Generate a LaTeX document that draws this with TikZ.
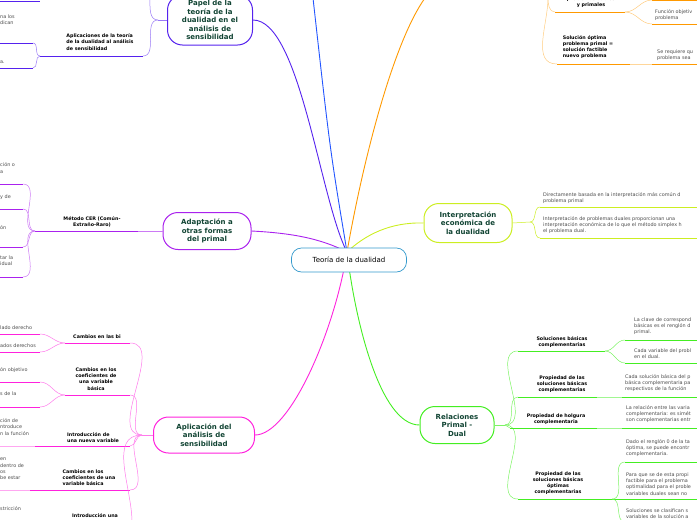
\documentclass[tikz,border=0pt]{standalone}
\usepackage{fontspec}
\setmainfont{DejaVu Sans}
\usetikzlibrary{calc}
\definecolor{titlegreen}{HTML}{114433}
\definecolor{ctrblue}{HTML}{3399CC}
\definecolor{topblue}{HTML}{2255FF}
\definecolor{papelc}{HTML}{5522EE}
\definecolor{adaptc}{HTML}{AA22EE}
\definecolor{aplicc}{HTML}{FF22DD}
\definecolor{interpc}{HTML}{CCEE22}
\definecolor{relc}{HTML}{44EE22}
\definecolor{orangec}{HTML}{FF9900}
\tikzstyle{topic}=[rectangle, rounded corners=15pt, draw, line width=1pt, align=center, fill=white, text=titlegreen, font=\fontsize{7}{8.4}\selectfont\bfseries]
\tikzstyle{sub}=[align=center, inner sep=0pt, font=\fontsize{4.8}{6.2}\selectfont\bfseries]
\tikzstyle{leaf}=[align=left, anchor=west, inner sep=0pt, text=black!70, font=\fontsize{4.9}{6.3}\selectfont]
\tikzstyle{link}=[line width=0.9pt]
\tikzstyle{thin}=[line width=0.5pt]
\begin{document}
\begin{tikzpicture}[x=1pt, y=-1pt]
	\useasboundingbox (0,0) rectangle (697,520);

	% centre
	\coordinate (hub) at (347,252);
	\coordinate (bluetop) at (313,-2);
	\coordinate (orgtop) at (425,-2);
	\draw[link, topblue] (hub) .. controls (330,150) .. (bluetop);
	\draw[link, orangec] (hub) .. controls (365,150) and (395,40) .. (orgtop);

	% main topics
	\node[topic, draw=papelc, minimum width=85pt, minimum height=50pt](papel) at (210,20){Papel de la\\teoría de la\\dualidad en el\\análisis de\\sensibilidad};
	\node[topic, draw=adaptc, minimum width=88pt, minimum height=37pt](adapt) at (207,231){Adaptación a\\otras formas\\del primal};
	\node[topic, draw=aplicc, minimum width=101pt, minimum height=36pt](aplic) at (204,435){Aplicación del\\análisis de\\sensibilidad};
	\node[topic, draw=interpc, minimum width=88pt, minimum height=39pt](interp) at (468,223){Interpretación\\económica de\\la dualidad};
	\node[topic, draw=relc, minimum width=74pt, minimum height=37pt](rel) at (457,425){Relaciones\\Primal -\\Dual};

	\draw[link, papelc] (papel.east) .. controls (300,20) and (320,200) .. (hub);
	\draw[link, adaptc] (adapt.east) .. controls (290,233) and (320,238) .. (hub);
	\draw[link, aplicc] (aplic.east) .. controls (290,435) and (335,330) .. (hub);
	\draw[link, interpc] (interp.west) .. controls (390,222) and (365,235) .. (hub);
	\draw[link, relc] (rel.west) .. controls (380,425) and (355,320) .. (hub);

	\node[rectangle, rounded corners=10pt, draw=ctrblue, fill=white, line width=0.7pt, minimum width=115pt, minimum height=24pt, font=\fontsize{7}{8}\selectfont](ctr) at (349,260){Teoría de la dualidad};

	% papel
	\node[sub, align=left](aplteo) at (100,42){Aplicaciones de la teoría\\de la dualidad al análisis\\de sensibilidad};
	\coordinate (aplteoR) at (143,56);
	\coordinate (aplteoL) at (40,56);
	\coordinate (papelUp) at (150,-2);
	\coordinate (papelJ) at (158,20);
	\draw[thin, papelc!60] (papel.west) -- (papelJ);
	\draw[thin, papelc!60] (papelJ) to[out=180,in=0] (aplteoR);
	\draw[thin, papelc!60] (papelJ) to[out=180,in=-90] (papelUp);
	\draw[link, papelc] (aplteoL) -- (aplteoR);
	\coordinate (pl0) at (0,1); \coordinate (pl0e) at (40,1);
	\coordinate (pl1) at (0,43); \coordinate (pl1e) at (33,43);
	\coordinate (pl2) at (0,68); \coordinate (pl2e) at (33,68);
	\draw[link, papelc] (pl0) -- (pl0e);
	\draw[link, papelc] (pl1) -- (pl1e);
	\draw[link, papelc] (pl2) -- (pl2e);
	\draw[thin, papelc!60] (aplteoL) to[out=180,in=0] (pl1e);
	\draw[thin, papelc!60] (aplteoL) to[out=180,in=0] (pl2e);
	\node[leaf](p1) at (0,20){na los\\dican};
	\node[leaf](p2) at (0,62){a.};

	% adaptacion
	\node[sub](cer) at (92,222){Método CER (Común-\\Extraño-Raro)};
	\coordinate (cerR) at (138,231);
	\coordinate (cerL) at (35,231);
	\draw[thin, adaptc!60] (adapt.west) -- (cerR);
	\draw[link, adaptc] (cerL) -- (cerR);
	\foreach \y/\n in {184/a1, 209/a2, 247/a3, 277/a4}{
		\coordinate (\n) at (23,\y);
		\draw[link, adaptc] (0,\y) -- (\n);
		\draw[thin, adaptc!60] (cerL) to[out=180,in=0] (\n);
	}
	\node[leaf](ad1) at (0,168){ción o\\a};
	\node[leaf](ad2) at (0,197){ y de};
	\node[leaf](ad3) at (0,228){ón};
	\node[leaf](ad4) at (0,261){tar la\\idual};

	% aplicacion
	\coordinate (apJ) at (142,435);
	\draw[thin, aplicc!60] (aplic.west) -- (apJ);
	\node[sub](bi) at (97,337){Cambios en las bi};
	\node[sub](cvb) at (96,379){Cambios en los\\coeficientes de\\una variable\\básica};
	\node[sub, align=left](nva) at (93,438){Introducción de\\una nueva variable};
	\node[sub, align=left](cvb2) at (89,478){Cambios en los\\coeficientes de una\\variable básica};
	\node[sub](nres) at (95,516){Introducción una};
	\foreach \y/\xl/\n in {343/65/u1, 395/65/u2, 446/35/u3, 490/30/u4}{
		\coordinate (\n L) at (\xl,\y);
		\coordinate (\n R) at (130,\y);
		\draw[link, aplicc] (\n L) -- (\n R);
		\draw[thin, aplicc!60] (apJ) to[out=180,in=0] (\n R);
	}
	\coordinate (u5R) at (132,522);
	\draw[thin, aplicc!60] (apJ) to[out=180,in=90] (u5R);
	\foreach \y/\n/\s in {334/b1/u1L, 352/b2/u1L, 382/b3/u2L, 407/b4/u2L}{
		\coordinate (\n) at (40,\y);
		\draw[link, aplicc] (0,\y) -- (\n);
		\draw[thin, aplicc!60] (\s) to[out=180,in=0] (\n);
	}
	\draw[link, aplicc!40] (0,446) -- (u3L);
	\draw[link, aplicc!40] (0,490) -- (u4L);
	\node[leaf](bt1) at (0,328){ lado derecho};
	\node[leaf](bt2) at (0,346){ados derechos};
	\node[leaf](bt3) at (0,370){ón objetivo};
	\node[leaf](bt4) at (0,394){s de la};
	\node[leaf](bt5) at (0,427){ción de\\ntroduce\\n la función};
	\node[leaf](bt6) at (0,469){en\\dentro de\\os\\be estar};
	\node[leaf](bt7) at (0,509){stricción};

	% interpretacion
	\coordinate (inJ) at (530,222);
	\draw[thin, interpc] (interp.east) -- (inJ);
	\foreach \y/\n in {207/i1, 238/i2}{
		\coordinate (\n) at (540,\y);
		\draw[link, interpc] (\n) -- (697,\y);
		\draw[thin, interpc] (inJ) to[out=0,in=180] (\n);
	}
	\node[leaf](it1) at (543,198){Directamente basada en la interpretación más común d\\problema primal};
	\node[leaf](it2) at (543,225){Interpretación de problemas duales proporcionan una\\interpretación económica de lo que el método simplex h\\el problema dual.};

	% relaciones
	\coordinate (reJ) at (505,425);
	\draw[thin, relc!70] (rel.east) -- (reJ);
	\node[sub](sbc) at (562,342){Soluciones básicas\\complementarias};
	\node[sub](psb) at (562,384){Propiedad de las\\soluciones básicas\\complementarias};
	\node[sub](phc) at (556,419){Propiedad de holgura\\complementaria};
	\node[sub](pso) at (558,483){Propiedad de las\\soluciones básicas\\óptimas\\complementarias};
	\foreach \y/\xl/\n in {351/518/r1, 397/518/r2, 428/510/r3, 499/518/r4}{
		\coordinate (\n) at (\xl,\y);
		\draw[thin, relc!70] (reJ) to[out=0,in=180] (\n);
	}
	\draw[link, relc] (r1) -- (605,351);
	\draw[link, relc] (r2) -- (597,397); \draw[link, relc!50] (597,397) -- (622,397); \draw[link, relc] (622,397) -- (697,397);
	\draw[link, relc] (r3) -- (597,428); \draw[link, relc!50] (597,428) -- (622,428); \draw[link, relc] (622,428) -- (697,428);
	\draw[link, relc] (r4) -- (697,499);
	\coordinate (sbcJ) at (605,351);
	\coordinate (psoJ) at (612,499);
	\foreach \y/\n/\s in {340/s1/sbcJ, 363/s2/sbcJ, 462/s3/psoJ, 522/s4/psoJ}{
		\coordinate (\n) at (625,\y);
		\draw[link, relc] (\n) -- (697,\y);
		\draw[thin, relc!70] (\s) to[out=0,in=180] (\n);
	}
	\node[leaf](rt1) at (634,326){La clave de correspond\\básicas es el renglón d\\primal.};
	\node[leaf](rt2) at (634,354){Cada variable del probl\\en el dual.};
	\node[leaf](rt3) at (625,383){Cada solución básica del p\\básica complementaria pa\\respectivos de la función};
	\node[leaf](rt4) at (626,414){La relación entre las varia\\complementaria: es simét\\son complementarias entr};
	\node[leaf](rt5) at (626,448){Dado el renglón 0 de la ta\\óptima, se puede encontr\\complementaria.};
	\node[leaf](rt6) at (626,484){Para que se de esta propi\\factible para el problema\\optimalidad para el proble\\variables duales sean no};
	\node[leaf](rt7) at (626,514){Soluciones se clasifican s\\variables de la solución a};

	% naranja
	\node[sub](pdp) at (591,2){problemas duales\\y primales};
	\node[sub, align=left](sop) at (588,47){Solución óptima\\problema primal =\\solución factible\\nuevo problema};
	\coordinate (orJ) at (548,-2);
	\coordinate (pdpL) at (555,12); \coordinate (pdpR) at (625,12);
	\coordinate (sopL) at (557,64); \coordinate (sopR) at (630,64);
	\draw[link, orangec] (pdpL) -- (pdpR);
	\draw[link, orangec] (sopL) -- (sopR);
	\draw[link, orangec!40] (sopR) -- (652,64);
	\draw[link, orangec] (652,64) -- (697,64);
	\draw[thin, orangec!50] (orJ) to[out=-90,in=180] (pdpL);
	\draw[thin, orangec!50] (orJ) to[out=-90,in=180] (sopL);
	\coordinate (o1) at (652,0); \coordinate (o2) at (652,24);
	\draw[link, orangec] (o1) -- (697,0);
	\draw[link, orangec] (o2) -- (697,24);
	\draw[thin, orangec!50] (pdpR) to[out=0,in=180] (o1);
	\draw[thin, orangec!50] (pdpR) to[out=0,in=180] (o2);
	\node[leaf](ot1) at (655,15){Función objetiv\\problema};
	\node[leaf](ot2) at (657,55){Se requiere qu\\problema sea};
\end{tikzpicture}
\end{document}
